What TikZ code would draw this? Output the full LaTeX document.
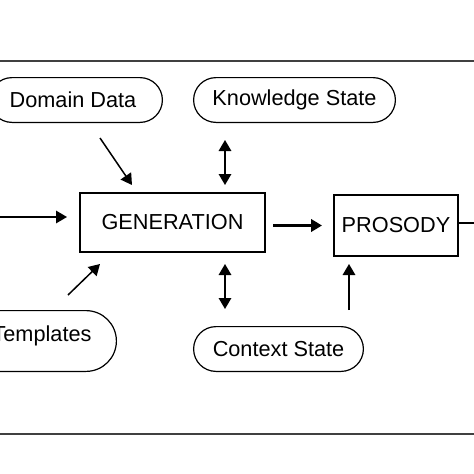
\documentclass[tikz,border=0pt]{standalone}
\usepackage{fontspec}
\setmainfont{Liberation Sans}
\usetikzlibrary{arrows.meta,shapes.misc}
\begin{document}
\begin{tikzpicture}[x=1pt,y=-1pt,
  lbl/.style={font=\fontsize{21.7}{26}\selectfont},
  pill/.style={lbl, draw, line width=1.2pt, rounded rectangle, inner sep=0pt},
  box/.style={lbl, draw, line width=2.4pt, rectangle, inner sep=0pt},
  arr/.style={-{Triangle[length=11pt,width=12.5pt]}, line width=1.5pt},
  darr/.style={{Triangle[length=11pt,width=12.5pt]}-{Triangle[length=11pt,width=12.5pt]}, line width=1.5pt},
  framestyle/.style={line width=1.2pt, draw=black!75}]
\clip (0,0) rectangle (474,474);
\fill[white] (0,0) rectangle (474,474);
% frame
\draw[framestyle] (-5,61) -- (480,61);
\draw[framestyle] (-5,434) -- (480,434);
% nodes
\node[pill, minimum width=172.8, minimum height=44.8] (dd) at (76,100) {\hspace*{-6pt}Domain Data};
\node[pill, minimum width=201.8, minimum height=44.8] (ks) at (294.5,100) {Knowledge State};
\node[pill, minimum width=148.8, minimum height=60.8] (tp) at (42,341) {\raisebox{5pt}[\height][\depth]{Templates}};
\node[pill, minimum width=169.8, minimum height=44.8] (cs) at (278.5,349) {Context State};
\node[box, minimum width=184.6, minimum height=58.6] (gen) at (172.5,222.5) {GENERATION};
\node[box, minimum width=123.6, minimum height=60.6] (pr) at (396,225.5) {PROSODY};
% connectors
\coordinate (in) at (-5,217);
\coordinate (out) at (480,223);
\draw[arr] (in) -- ([xshift=-12pt]in -| gen.west);
\draw[line width=1.5pt] (pr.east |- out) -- (out);
\draw[arr, line width=2.4pt] ([xshift=7pt]gen.east |- pr.west) -- ([xshift=-11pt]pr.west);
\draw[arr] ([xshift=24pt,yshift=-15pt]dd.south) -- ([xshift=-40.5pt,yshift=7pt]gen.north);
\draw[darr] ([xshift=52.5pt,yshift=52pt]gen.north) -- ([xshift=52.5pt,yshift=7pt]gen.north);
\draw[darr] ([xshift=52.5pt,yshift=-11pt]gen.south) -- ([xshift=52.5pt,yshift=-56pt]gen.south);
\draw[arr] ([xshift=26pt,yshift=15pt]tp.north) -- ([xshift=-72.5pt,yshift=-11pt]gen.south);
\draw[arr] ([xshift=-47pt,yshift=-53pt]pr.south) -- ([xshift=-47pt,yshift=-7pt]pr.south);
\end{tikzpicture}
\end{document}
